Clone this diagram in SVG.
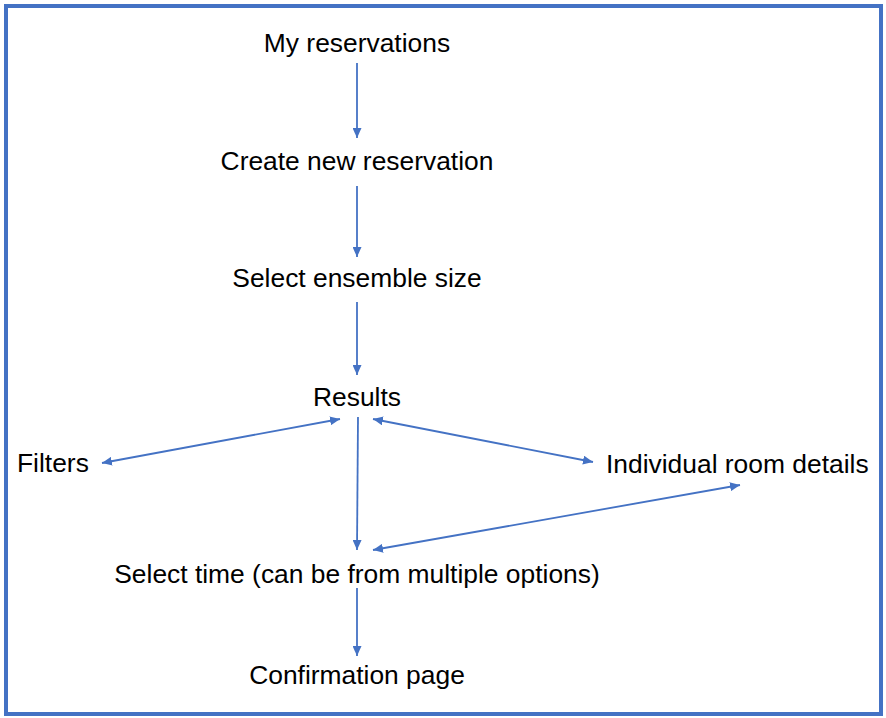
<svg xmlns="http://www.w3.org/2000/svg" width="886" height="718" viewBox="0 0 886 718">
  <style>
    .lbl { font-family: "Liberation Sans", Arial, sans-serif; font-size: 26.4px; fill: #000; }
    .mid { text-anchor: middle; }
    .edge { stroke: #4472C4; stroke-width: 1.8; fill: none; }
  </style>
  <defs>
    <marker id="head" markerUnits="userSpaceOnUse" markerWidth="11" markerHeight="9" refX="10" refY="4.5" orient="auto-start-reverse">
      <path d="M0,0 L10,4.5 L0,9 Z" fill="#4472C4"/>
    </marker>
  </defs>
  <rect x="0" y="0" width="886" height="718" fill="#fff"/>
  <rect x="6" y="6" width="875" height="708" fill="none" stroke="#4472C4" stroke-width="4"/>

  <g id="connectors">
    <line class="edge" x1="357" y1="63" x2="357" y2="138" marker-end="url(#head)"/>
    <line class="edge" x1="357" y1="186" x2="357" y2="257" marker-end="url(#head)"/>
    <line class="edge" x1="357" y1="302" x2="357" y2="375" marker-end="url(#head)"/>
    <line class="edge" x1="340" y1="419" x2="102" y2="463" marker-start="url(#head)" marker-end="url(#head)"/>
    <line class="edge" x1="373" y1="419" x2="593" y2="462" marker-start="url(#head)" marker-end="url(#head)"/>
    <line class="edge" x1="358" y1="417" x2="357" y2="550" marker-end="url(#head)"/>
    <line class="edge" x1="740" y1="485" x2="373" y2="550" marker-start="url(#head)" marker-end="url(#head)"/>
    <line class="edge" x1="357" y1="588" x2="357" y2="656" marker-end="url(#head)"/>
  </g>

  <g id="my-reservations"><text class="lbl mid" x="357" y="52">My reservations</text></g>
  <g id="create-reservation"><text class="lbl mid" x="357" y="170">Create new reservation</text></g>
  <g id="ensemble-size"><text class="lbl mid" x="357" y="287">Select ensemble size</text></g>
  <g id="results"><text class="lbl mid" x="357" y="406">Results</text></g>
  <g id="filters"><text class="lbl" x="17" y="472">Filters</text></g>
  <g id="room-details"><text class="lbl" x="606" y="473">Individual room details</text></g>
  <g id="select-time"><text class="lbl mid" x="357" y="583">Select time (can be from multiple options)</text></g>
  <g id="confirmation"><text class="lbl mid" x="357" y="684">Confirmation page</text></g>
</svg>
